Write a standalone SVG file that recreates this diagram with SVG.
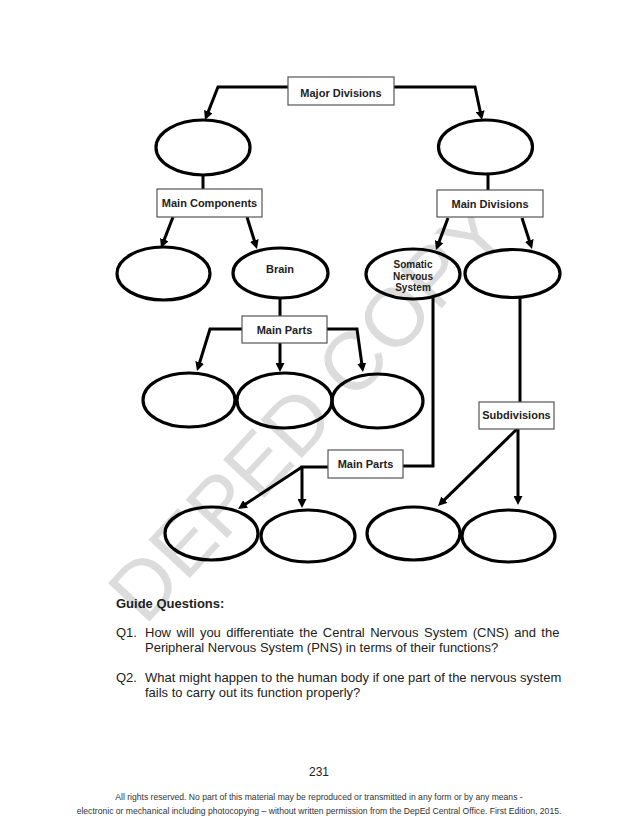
<svg xmlns="http://www.w3.org/2000/svg" width="638" height="831" viewBox="0 0 638 831">
<style>
.bg{fill:#ffffff}
.wm{font-family:"Liberation Sans",Arial,sans-serif;font-size:82px;fill:#dcdcdc}
.node ellipse{fill:none;stroke:#000;stroke-width:3.2}
.node rect{fill:#fff;stroke:#555;stroke-width:1.2}
.lbl{font-family:"Liberation Sans",Arial,sans-serif;font-size:11px;font-weight:bold;fill:#222;text-anchor:middle}
.sm{font-size:10px}
.conn path{fill:none;stroke:#000;stroke-width:3;stroke-linejoin:miter}
.q{font-family:"Liberation Sans",Arial,sans-serif;font-size:13px;fill:#222}
.qh{font-weight:bold}
.ft{font-family:"Liberation Sans",Arial,sans-serif;font-size:8.6px;fill:#333;text-anchor:middle}
.pg{font-family:"Liberation Sans",Arial,sans-serif;font-size:12px;fill:#222;text-anchor:middle}
</style>
<defs>
<marker id="ah" viewBox="0 0 10 10" refX="3" refY="5" markerWidth="3" markerHeight="3" orient="auto" markerUnits="strokeWidth">
<path d="M0,0 L10,5 L0,10 z" fill="#000"/>
</marker>
</defs>
<rect class="bg" x="0" y="0" width="638" height="831"/>
<text class="wm" transform="translate(307,410) rotate(-47)" x="0" y="29" text-anchor="middle">DEPED COPY</text>

<g id="connectors" class="conn">
<path d="M288,87 L218,87 L207.3,114.1" marker-end="url(#ah)"/>
<path d="M394,87 L475,87 L480.7,113.8" marker-end="url(#ah)"/>
<path d="M203,175 L203,189"/>
<path d="M488,174 L488,190"/>
<path d="M173,217 L163.3,242.1" marker-end="url(#ah)"/>
<path d="M247,217 L255.1,243" marker-end="url(#ah)"/>
<path d="M448,218 L438.2,244.1" marker-end="url(#ah)"/>
<path d="M522,218 L530.1,243" marker-end="url(#ah)"/>
<path d="M280,298 L280,316"/>
<path d="M280,343 L280,365.7" marker-end="url(#ah)"/>
<path d="M242,329 L210,329 L198.9,365" marker-end="url(#ah)"/>
<path d="M327,329 L357,329 L362.1,365.8" marker-end="url(#ah)"/>
<path d="M433,296 L433,466 L403,466"/>
<path d="M520,297 L520,402"/>
<path d="M517,429 L442.5,501.6" marker-end="url(#ah)"/>
<path d="M518,429 L518,498.7" marker-end="url(#ah)"/>
<path d="M328,467 L302,467 L302,501.7" marker-end="url(#ah)"/>
<path d="M302,467 L243.3,505.5" marker-end="url(#ah)"/>
</g>

<g id="n-major" class="node"><rect x="288" y="77" width="106" height="28"/><text class="lbl" x="341" y="97">Major Divisions</text></g>
<g id="n-left1" class="node"><ellipse cx="203" cy="147.5" rx="47" ry="27.5"/></g>
<g id="n-right1" class="node"><ellipse cx="485.5" cy="147" rx="47" ry="27"/></g>
<g id="n-maincomp" class="node"><rect x="157" y="189" width="105" height="28"/><text class="lbl" x="209.5" y="207">Main Components</text></g>
<g id="n-maindiv" class="node"><rect x="437" y="190" width="106" height="27"/><text class="lbl" x="490" y="208">Main Divisions</text></g>
<g id="n-left2" class="node"><ellipse cx="163.5" cy="273.5" rx="46.5" ry="26.5"/></g>
<g id="n-brain" class="node"><ellipse cx="280.5" cy="273" rx="47.5" ry="25"/><text class="lbl" x="280" y="273">Brain</text></g>
<g id="n-somatic" class="node"><ellipse cx="413" cy="274" rx="47" ry="25"/><text class="lbl sm" x="413" y="268">Somatic</text><text class="lbl sm" x="413" y="280">Nervous</text><text class="lbl sm" x="413" y="291">System</text></g>
<g id="n-right2" class="node"><ellipse cx="512.5" cy="273.5" rx="47.5" ry="24"/></g>
<g id="n-mainparts1" class="node"><rect x="242" y="316" width="85" height="27"/><text class="lbl" x="284.5" y="334">Main Parts</text></g>
<g id="n-mp-a" class="node"><ellipse cx="189" cy="400" rx="46" ry="27"/></g>
<g id="n-mp-b" class="node"><ellipse cx="284.5" cy="400.5" rx="47.5" ry="27.5"/></g>
<g id="n-mp-c" class="node"><ellipse cx="377.5" cy="401" rx="45.5" ry="27"/></g>
<g id="n-subdiv" class="node"><rect x="479" y="402" width="75" height="27"/><text class="lbl" x="516.5" y="419">Subdivisions</text></g>
<g id="n-mainparts2" class="node"><rect x="328" y="450" width="75" height="28"/><text class="lbl" x="365.5" y="468">Main Parts</text></g>
<g id="n-bot-a" class="node"><ellipse cx="211.5" cy="533.5" rx="46.5" ry="26.5"/></g>
<g id="n-bot-b" class="node"><ellipse cx="308" cy="536" rx="47" ry="26"/></g>
<g id="n-bot-c" class="node"><ellipse cx="413.5" cy="533.5" rx="46.5" ry="26.5"/></g>
<g id="n-bot-d" class="node"><ellipse cx="508.5" cy="536" rx="46.5" ry="26"/></g>

<g id="questions">
<text class="q qh" x="116" y="608">Guide Questions:</text>
<text class="q" x="116" y="637">Q1.</text>
<text class="q" x="145" y="637" word-spacing="1.8">How will you differentiate the Central Nervous System (CNS) and the</text>
<text class="q" x="145" y="652">Peripheral Nervous System (PNS) in terms of their functions?</text>
<text class="q" x="116" y="682">Q2.</text>
<text class="q" x="145" y="682">What might happen to the human body if one part of the nervous system</text>
<text class="q" x="145" y="697">fails to carry out its function properly?</text>
</g>
<g id="footer">
<text class="pg" x="319" y="776">231</text>
<text class="ft" x="319" y="800">All rights reserved. No part of this material may be reproduced or transmitted in any form or by any means -</text>
<text class="ft" x="319" y="814">electronic or mechanical including photocopying – without written permission from the DepEd Central Office. First Edition, 2015.</text>
</g>
</svg>
